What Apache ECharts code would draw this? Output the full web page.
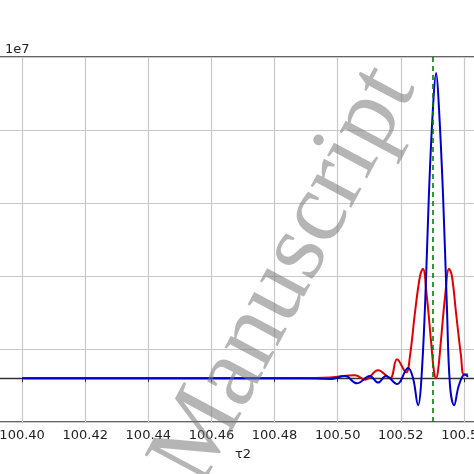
<!DOCTYPE html>
<html><head><meta charset="utf-8">
<script src="https://cdn.jsdelivr.net/npm/echarts@6/dist/echarts.min.js"></script>
<style>html,body{margin:0;padding:0;background:#fff}#c{width:474px;height:474px}</style>
</head><body><div id="c"></div>
<script>
const blueX = [100.40,100.4881,100.4976,100.5023,100.5061,100.5102,100.5128,100.5153,100.5188,100.5223,100.5239,100.5255,100.5264,100.5277,100.5289,100.5302,100.5312,100.5321,100.5334,100.5346,100.5356,100.5369,100.5384,100.5403,100.5413];
const blueY = [0,0,-0.01,0.03,-0.07,0.03,-0.06,0.03,-0.08,0.14,0.0,-0.37,-0.1,1.0,2.5,3.7,4.18,3.7,2.5,1.0,-0.1,-0.37,-0.1,0.05,0.02];
const redX = [100.40,100.4881,100.4976,100.5055,100.5087,100.5128,100.5166,100.5188,100.5217,100.5229,100.5245,100.5261,100.5270,100.5283,100.5296,100.5305,100.5312,100.5318,100.5327,100.5340,100.5353,100.5362,100.5375,100.5391,100.5400,100.5413];
const redY = [0,0,0.01,0.04,-0.02,0.11,0.0,0.26,0.08,0.3,0.9,1.4,1.5,1.1,0.5,0.1,0.0,0.1,0.5,1.1,1.5,1.4,0.9,0.3,0.05,0.05];
const peakX = 100.5312;
const chart = echarts.init(document.getElementById('c'));
const font = 'DejaVu Sans';
chart.setOption({
  animation:false,
  grid:{left:-41,right:-53,top:57,bottom:52,show:true,borderColor:'#333',borderWidth:1.3,containLabel:false,outerBoundsMode:'none'},
  title:{text:'1e7',left:0,top:38,textStyle:{fontFamily:font,fontSize:13,fontWeight:'normal',color:'#222'}},
  xAxis:{type:'value',min:100.38,max:100.56,interval:0.02,name:'τ2',nameLocation:'middle',nameGap:26,
    nameTextStyle:{fontFamily:font,fontSize:13,color:'#222'},
    axisLine:{lineStyle:{color:'#333',width:1.3}},axisTick:{show:true,length:4,lineStyle:{color:'#333'}},
    axisLabel:{fontFamily:font,fontSize:13,color:'#222',margin:7,formatter:v=>v.toFixed(2),hideOverlap:false},
    splitLine:{show:true,lineStyle:{color:'#c8c8c8',width:1.2}}},
  yAxis:{type:'value',min:-0.6,max:4.4,interval:1,axisLabel:{show:false},axisTick:{show:false},
    axisLine:{show:false},splitLine:{show:true,lineStyle:{color:'#c8c8c8',width:1.2}}},
  graphic:[{type:'text',x:222,y:500,rotation:1.08,z:100,
    style:{text:'Manuscript',font:'100px "Liberation Serif"',fill:'rgba(120,120,120,0.55)',textVerticalAlign:'bottom'}}],
  series:[
    {type:'line',data:redX.map((x,i)=>[x,redY[i]]),smooth:0.4,showSymbol:false,lineStyle:{color:'#e00000',width:2}},
    {type:'line',data:blueX.map((x,i)=>[x,blueY[i]]),smooth:0.4,showSymbol:false,lineStyle:{color:'#0000cc',width:2},
      markLine:{symbol:'none',silent:true,label:{show:false},lineStyle:{color:'#008000',type:[5,4],width:1.6},data:[{xAxis:peakX}]}}
  ]
});
</script></body></html>
